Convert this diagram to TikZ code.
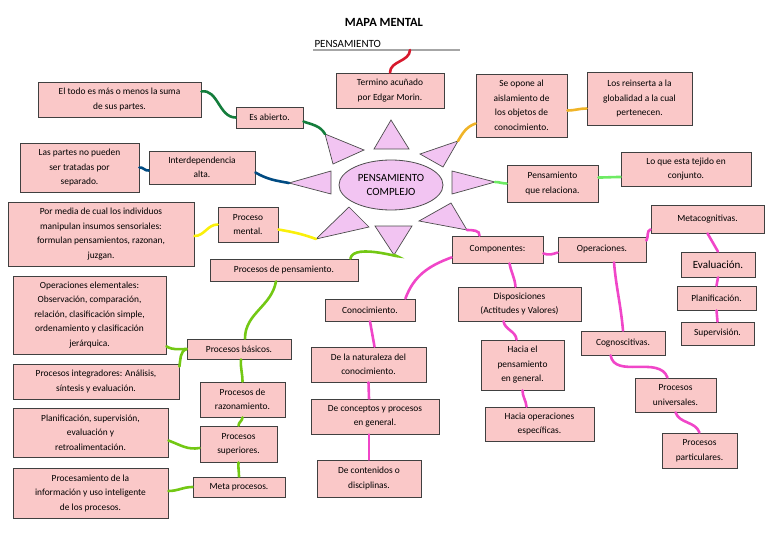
\documentclass[tikz,border=0pt]{standalone}
\usepackage{fontspec}
\setmainfont{Carlito}
\usetikzlibrary{shapes.geometric}
\definecolor{boxfill}{RGB}{250,200,200}
\definecolor{trifill}{RGB}{242,196,242}
\definecolor{cred}{RGB}{215,25,45}
\definecolor{cdgreen}{RGB}{20,125,60}
\definecolor{cblue}{RGB}{0,75,130}
\definecolor{cyellow}{RGB}{250,240,10}
\definecolor{cgold}{RGB}{240,180,40}
\definecolor{clgreen}{RGB}{110,235,100}
\definecolor{cygreen}{RGB}{115,200,20}
\definecolor{cmag}{RGB}{240,70,200}
\newcommand\bx[6]{%
  \pgfmathsetmacro\cxx{(#2+#4)/2}\pgfmathsetmacro\cyy{(#3+#5)/2}%
  \pgfmathsetmacro\ww{#4-#2}\pgfmathsetmacro\hh{#5-#3}%
  \node[box,minimum width=\ww pt,minimum height=\hh pt] (#1) at (\cxx,\cyy) {#6};}
\tikzset{
 box/.style={draw=black!75,fill=boxfill,line width=0.8pt,align=center,inner sep=1pt,font=\fontsize{9.4}{14.5}\selectfont},
 tri/.style={draw=black!70,fill=trifill,line width=0.7pt},
 con/.style={line width=2.6pt,line cap=round}
}
\begin{document}
\begin{tikzpicture}[x=1pt,y=-1pt]
\useasboundingbox (0,0) rectangle (768,543);
\node[font=\bfseries\fontsize{12.5}{14}\selectfont] (title) at (384,22) {MAPA MENTAL};
\node[font=\fontsize{11}{13}\selectfont, anchor=west] (pens) at (311,44) {PENSAMIENTO};
\draw[gray!70,line width=1.2pt] (313,50) -- (460,50);
\coordinate (pu) at (410,50);
% boxes
\bx{termino}{336}{73}{444}{108}{Termino acuñado\\por Edgar Morin.}
\bx{opone}{476}{74}{567}{137}{Se opone al\\aislamiento de\\los objetos de\\conocimiento.}
\bx{reins}{587}{72}{692}{125}{Los reinserta a la\\globalidad a la cual\\pertenecen.}
\bx{todo}{38}{82}{201}{117}{El todo es más o menos la suma\\de sus partes.}
\bx{abierto}{236}{107}{303}{128}{Es abierto.}
\bx{partes}{20}{143}{139}{192}{Las partes no pueden\\ser tratadas por\\separado.}
\bx{interd}{149}{151}{255}{184}{Interdependencia\\alta.}
\bx{relac}{507}{165}{598}{202}{Pensamiento\\que relaciona.}
\bx{tejido}{621}{152}{751}{186}{Lo que esta tejido en\\conjunto.}
\bx{pormedia}{8}{202}{194}{266}{Por media de cual los individuos\\manipulan insumos sensoriales:\\formulan pensamientos, razonan,\\juzgan.}
\bx{mental}{218}{207}{278}{242}{Proceso\\mental.}
\bx{procpens}{210}{259}{358}{281}{Procesos de pensamiento.}
\bx{compon}{452}{236}{543}{263}{Componentes:}
\bx{operac}{558}{237}{646}{262}{Operaciones.}
\bx{metacog}{651}{205}{764}{233}{Metacognitivas.}
\bx{evalua}{681}{252}{755}{277}{\fontsize{11}{12}\selectfont Evaluación.}
\bx{planif}{677}{286}{756}{310}{Planificación.}
\bx{superv}{681}{322}{754}{345}{Supervisión.}
\bx{opelem}{13}{276}{166}{354}{Operaciones elementales:\\Observación, comparación,\\relación, clasificación simple,\\ordenamiento y clasificación\\jerárquica.}
\bx{basicos}{187}{339}{291}{359}{Procesos básicos.}
\bx{integ}{13}{364}{179}{399}{Procesos integradores: Análisis,\\síntesis y evaluación.}
\bx{razon}{200}{382}{285}{417}{Procesos de\\razonamiento.}
\bx{plansup}{13}{408}{168}{457}{Planificación, supervisión,\\evaluación y\\retroalimentación.}
\bx{superiores}{200}{426}{277}{462}{Procesos\\superiores.}
\bx{procesam}{13}{468}{168}{518}{Procesamiento de la\\información y uso inteligente\\de los procesos.}
\bx{meta}{193}{477}{285}{497}{Meta procesos.}
\bx{conoc}{325}{299}{415}{321}{Conocimiento.}
\bx{natur}{311}{347}{426}{382}{De la naturaleza del\\conocimiento.}
\bx{concep}{311}{399}{439}{434}{De conceptos y procesos\\en general.}
\bx{conten}{317}{460}{421}{497}{De contenidos o\\disciplinas.}
\bx{dispos}{458}{287}{581}{321}{Disposiciones\\(Actitudes y Valores)}
\bx{haciap}{481}{340}{564}{390}{Hacia el\\pensamiento\\en general.}
\bx{haciao}{485}{407}{594}{441}{Hacia operaciones\\específicas.}
\bx{cognos}{581}{331}{665}{355}{Cognoscitivas.}
\bx{univ}{635}{378}{716}{412}{Procesos\\universales.}
\bx{partic}{662}{433}{737}{468}{Procesos\\particulares.}
% star
\node[ellipse,draw=black!70,fill=trifill,line width=0.8pt,minimum width=104pt,minimum height=50pt,align=center,font=\fontsize{11}{14}\selectfont] (center) at (391,185) {PENSAMIENTO\\COMPLEJO};
\draw[tri] (391,120) -- (409,149) -- (374,149) -- cycle;
\draw[tri] (325,134) -- (364,150) -- (333,164) -- cycle;
\draw[tri] (420,154) -- (458,141) -- (443,167) -- cycle;
\draw[tri] (289,183) -- (331,171) -- (331,194) -- cycle;
\draw[tri] (452,171) -- (495,182) -- (452,194) -- cycle;
\draw[tri] (316,239) -- (349,207) -- (369,227) -- cycle;
\draw[tri] (419,221) -- (451,203) -- (467,230) -- cycle;
\draw[tri] (375,226) -- (412,226) -- (394,255) -- cycle;
\coordinate (tUL) at (325,134);
\coordinate (tUR) at (458,141);
\coordinate (tL) at (289,183);
\coordinate (tR) at (495,182);
\coordinate (tLL) at (316,239);
\coordinate (tLR) at (467,230);
\coordinate (tB) at (394,255);
% connectors
\draw[con,cred] (pu) to[out=-92,in=90] (termino.north);
\draw[con,cdgreen] ([yshift=8pt]todo.east) to[out=10,in=180] (abierto.west);
\draw[con,cdgreen] ([yshift=-4pt]abierto.east) to[out=-20,in=120] (tUL);
\draw[con,cblue] (partes.east) to[out=10,in=190] ([yshift=-3pt]interd.west);
\draw[con,cblue] ([yshift=-5pt]interd.east) to[out=-30,in=170] (tL);
\draw[con,cyellow] ([yshift=-2pt]pormedia.east) to[out=0,in=180] (mental.west);
\draw[con,cyellow] ([yshift=-5pt]mental.east) to[out=-10,in=160] (tLL);
\draw[con,cgold] (tUR) to[out=60,in=200] ([yshift=-18pt]opone.west);
\draw[con,cgold] ([yshift=-5pt]opone.east) to[out=0,in=180] ([yshift=-10pt]reins.west);
\draw[con,clgreen] (tR) to[out=0,in=180] (relac.west);
\draw[con,clgreen] ([yshift=6pt]relac.east) to[out=0,in=180] ([yshift=-8pt]tejido.west);
\draw[con,cygreen] (tB) to[out=-20,in=80] ([xshift=-8pt]procpens.north east);
\draw[con,cygreen] ([xshift=-8pt]procpens.south) to[out=-100,in=90] ([xshift=6pt]basicos.north);
\draw[con,cygreen] (basicos.west) to[out=180,in=-30] ([yshift=8pt]opelem.south east);
\draw[con,cygreen] (basicos.west) to[out=200,in=80] ([yshift=-3pt]integ.north east);
\draw[con,cygreen] ([xshift=2pt]basicos.south) to[out=-95,in=90] (razon.north);
\draw[con,cygreen] (razon.south) to[out=-90,in=90] (superiores.north);
\draw[con,cygreen] ([yshift=-8pt]plansup.east) to[out=-20,in=190] ([yshift=-4pt]superiores.west);
\draw[con,cygreen] (superiores.south) to[out=-95,in=90] (meta.north);
\draw[con,cygreen] (meta.west) to[out=180,in=0] ([yshift=2pt]procesam.east);
\draw[con,cmag] (tLR) to[out=0,in=80] ([xshift=-18pt]compon.north);
\draw[con,cmag] ([yshift=6pt]compon.south west) to[out=200,in=70] ([xshift=-10pt]conoc.north east);
\draw[con,cmag] ([xshift=12pt]compon.south) to[out=-80,in=95] ([xshift=-4pt]dispos.north);
\draw[con,cmag] ([yshift=-4pt]compon.east) to[out=-20,in=200] ([yshift=-3pt]operac.west);
\draw[con,cmag] ([yshift=-4pt]operac.north east) to[out=60,in=200] ([yshift=4pt]metacog.south west);
\draw[con,cmag] (metacog.south) -- (evalua.north);
\draw[con,cmag] (evalua.south) -- (planif.north);
\draw[con,cmag] (planif.south) -- (superv.north);
\draw[con,cmag] ([xshift=12pt]operac.south) to[out=-85,in=95] (cognos.north);
\draw[con,cmag] ([xshift=30pt]cognos.south west) to[out=-80,in=110] ([xshift=-8pt]univ.north);
\draw[con,cmag] (univ.south) to[out=-70,in=110] (partic.north);
\draw[con,cmag] (conoc.south) to[out=-80,in=100] ([xshift=6pt]natur.north);
\draw[con,cmag] (natur.south) -- ([xshift=-6pt]concep.north);
\draw[con,cmag] ([xshift=-6pt]concep.south) -- (conten.north);
\draw[con,cmag] ([xshift=-16pt]dispos.south) to[out=-80,in=95] ([xshift=-6pt]haciap.north);
\draw[con,cmag] (haciap.south) to[out=-90,in=95] ([xshift=-13pt]haciao.north);
\end{tikzpicture}
\end{document}
